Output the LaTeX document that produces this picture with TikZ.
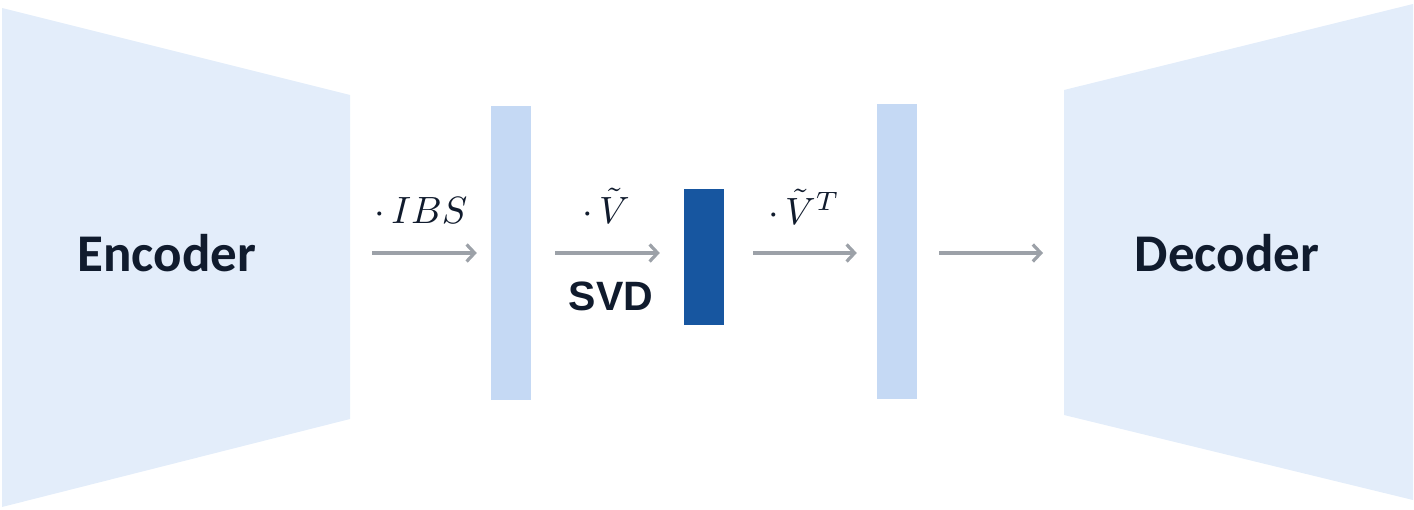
\documentclass[tikz,border=0pt]{standalone}
\usepackage{graphicx}
\usepackage{fontspec}
\usetikzlibrary{arrows.meta}
\newfontfamily\carlito{Carlito}
\newfontfamily\arialb{Liberation Sans}
\definecolor{trap}{HTML}{E3EDFA}
\definecolor{lightbar}{HTML}{C5D9F4}
\definecolor{darkbar}{HTML}{1756A0}
\definecolor{arrowgray}{HTML}{9CA1A8}
\definecolor{txt}{HTML}{101B2D}
\newcommand{\biglbl}[1]{\scalebox{3.8}{#1}}
\tikzset{
  trapez/.style={fill=trap, draw=none},
  barbox/.style={fill=lightbar, draw=none, minimum width=40pt, inner sep=0pt},
  darkbox/.style={fill=darkbar, draw=none, minimum width=40pt, inner sep=0pt},
  conn/.style={draw=arrowgray, line width=3.2pt, -{Straight Barb[length=8pt, width=17pt, line width=3.2pt]}},
  bigtxt/.style={font=\carlito\bfseries\fontsize{53}{60}\selectfont, text=txt},
  mathlbl/.style={text=txt, inner sep=0pt},
}
\begin{document}
\begin{tikzpicture}[x=1pt, y=-1pt]
\useasboundingbox (0,0) rectangle (1414,510);
% encoder / decoder trapezoids
\fill[trapez] (2,8) -- (350,95) -- (350,419) -- (2,507) -- cycle;
\fill[trapez] (1064,90) -- (1413,4) -- (1413,500) -- (1064,415) -- cycle;
\node[bigtxt] (enc) at (167,253) {Encoder};
\node[bigtxt] (dec) at (1227,253) {Decoder};
% bars
\node[barbox, minimum height=294pt] (b1) at (511,253) {};
\node[darkbox, minimum height=136pt] (b2) at (704,257) {};
\node[barbox, minimum height=295pt] (b3) at (897,251.5) {};
% connectors
\coordinate (a1s) at (372,253);
\coordinate (a2s) at (555,253);
\coordinate (a3s) at (753,253);
\coordinate (a4s) at (939,253);
\coordinate (a4e) at (1043,253);
\draw[conn, shorten >=14pt] (a1s) -- (a1s -| b1.west);
\draw[conn, shorten >=24pt] (a2s) -- (a2s -| b2.west);
\draw[conn, shorten >=20pt] (a3s) -- (a3s -| b3.west);
\draw[conn] (a4s) -- (a4e);
% labels
\node[mathlbl] (l1) at (421,211) {\biglbl{$\cdot\, IBS$}};
\node[mathlbl] (l2) at (606,206) {\biglbl{$\cdot\, \tilde{V}$}};
\node[mathlbl] (l3) at (804,207) {\biglbl{$\cdot\, \tilde{V}^{T}$}};
\node[font=\arialb\bfseries\fontsize{41}{46}\selectfont, text=txt] (svd) at (611,296) {SVD};
\end{tikzpicture}
\end{document}
